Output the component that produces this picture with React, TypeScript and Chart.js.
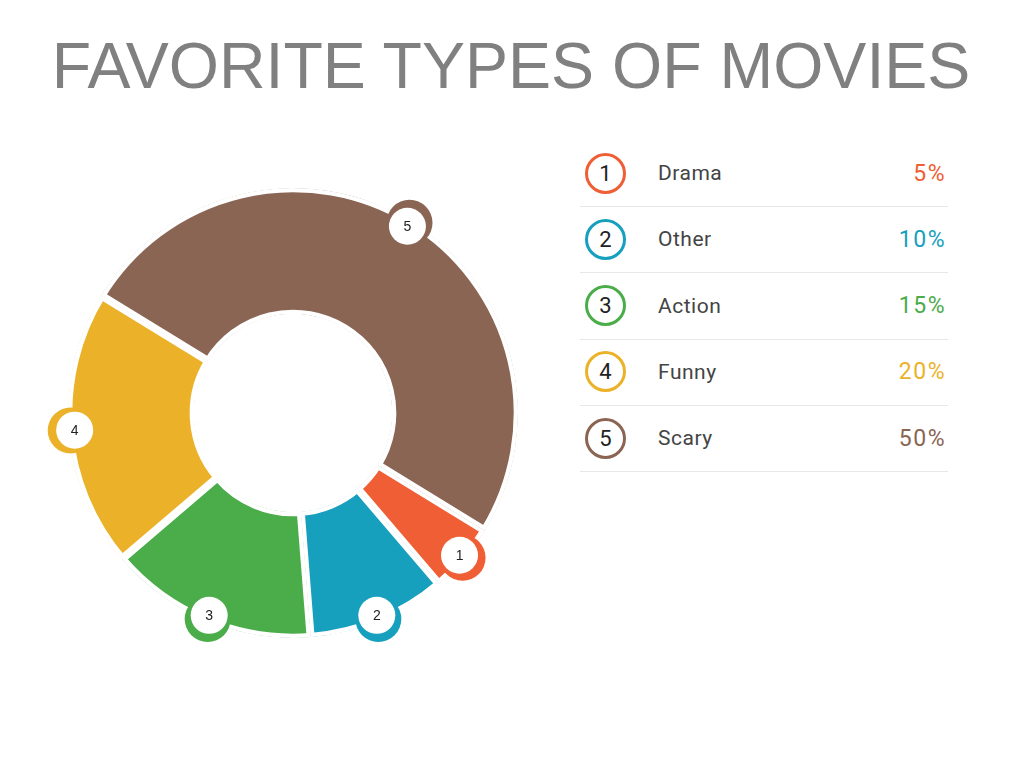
import React, { useEffect, useRef } from 'react'
import { Chart, registerables } from 'chart.js'

Chart.register(...registerables)

// data
const categories = ['Drama', 'Other', 'Action', 'Funny', 'Scary']
const shares = [5, 10, 15, 20, 50]
const markerLabels = ['1', '2', '3', '4', '5']
const colors = ['#EF5E34', '#16A0BE', '#4BAC4A', '#EBB229', '#8A6553']

// draws the small numbered badges sitting on the outer edge of each slice
const markerPlugin = {
  id: 'sliceMarkers',
  afterDatasetsDraw(chart: any) {
    const ctx = chart.ctx
    const meta = chart.getDatasetMeta(0)
    meta.data.forEach((arc: any, i: number) => {
      const { x, y, startAngle, endAngle, outerRadius } = arc.getProps(
        ['x', 'y', 'startAngle', 'endAngle', 'outerRadius'],
        true
      )
      const mid = (startAngle + endAngle) / 2
      const ox = x + Math.cos(mid) * (outerRadius - 2)
      const oy = y + Math.sin(mid) * (outerRadius - 2)
      const ix = x + Math.cos(mid) * (outerRadius - 6)
      const iy = y + Math.sin(mid) * (outerRadius - 6)
      ctx.save()
      ctx.beginPath()
      ctx.arc(ox, oy, 23, 0, Math.PI * 2)
      ctx.fillStyle = colors[i]
      ctx.fill()
      ctx.beginPath()
      ctx.arc(ix, iy, 18.5, 0, Math.PI * 2)
      ctx.fillStyle = '#ffffff'
      ctx.fill()
      ctx.fillStyle = '#222222'
      ctx.font = '14px "Liberation Sans", Arial, sans-serif'
      ctx.textAlign = 'center'
      ctx.textBaseline = 'middle'
      ctx.fillText(markerLabels[i], ix, iy + 1)
      ctx.restore()
    })
  },
}

const App: React.FC = () => {
  const chartRef = useRef<HTMLCanvasElement | null>(null)
  const chartInstanceRef = useRef<Chart | null>(null)

  useEffect(() => {
    if (chartInstanceRef.current) {
      chartInstanceRef.current.destroy()
    }
    const ctx = chartRef.current?.getContext('2d')
    if (ctx) {
      chartInstanceRef.current = new Chart(ctx, {
        type: 'doughnut',
        data: {
          labels: categories,
          datasets: [
            {
              data: shares,
              backgroundColor: colors,
              // white inner border gives the even gaps between slices
              borderColor: '#ffffff',
              borderWidth: 4,
              borderAlign: 'inner',
            },
          ],
        },
        options: {
          animation: false,
          responsive: true,
          maintainAspectRatio: false,
          rotation: 121.5,
          radius: 225,
          cutout: '44%',
          plugins: {
            legend: { display: false },
            tooltip: { enabled: false },
          },
        },
        plugins: [markerPlugin],
      })
    }
    return () => {
      if (chartInstanceRef.current) {
        chartInstanceRef.current.destroy()
        chartInstanceRef.current = null
      }
    }
  }, [])

  return (
    <div
      style={{
        position: 'fixed',
        left: 0,
        top: 0,
        width: 1024,
        height: 768,
        background: '#ffffff',
        overflow: 'hidden',
      }}
    >
      <div
        style={{
          position: 'absolute',
          left: 0,
          top: 34,
          width: 1022,
          textAlign: 'center',
          fontFamily: '"Liberation Sans", Arial, sans-serif',
          fontSize: 64.5,
          lineHeight: '64px',
          color: '#808080',
          whiteSpace: 'nowrap',
        }}
      >
        FAVORITE TYPES OF MOVIES
      </div>

      <div style={{ position: 'absolute', left: 43, top: 163, width: 500, height: 500 }}>
        <canvas ref={chartRef} style={{ width: '100%', height: '100%' }}></canvas>
      </div>

      {categories.map((name, i) => (
        <div
          key={name}
          style={{
            position: 'absolute',
            left: 580,
            top: 140 + i * 66.25,
            width: 368,
            height: 66,
            borderBottom: '1px solid #e8e8e8',
            display: 'flex',
            alignItems: 'center',
            fontFamily: 'Roboto, "Noto Sans", sans-serif',
          }}
        >
          <div
            style={{
              marginLeft: 5,
              width: 35,
              height: 35,
              borderRadius: '50%',
              border: `3px solid ${colors[i]}`,
              display: 'flex',
              alignItems: 'center',
              justifyContent: 'center',
              fontSize: 22,
              color: '#222',
            }}
          >
            {markerLabels[i]}
          </div>
          <div style={{ marginLeft: 32, fontSize: 21, color: '#444', letterSpacing: 0.5 }}>
            {name}
          </div>
          <div
            style={{
              marginLeft: 'auto',
              marginRight: 2,
              fontSize: 23,
              letterSpacing: 1.5,
              color: colors[i],
            }}
          >
            {shares[i]}%
          </div>
        </div>
      ))}
    </div>
  )
}

export default App
